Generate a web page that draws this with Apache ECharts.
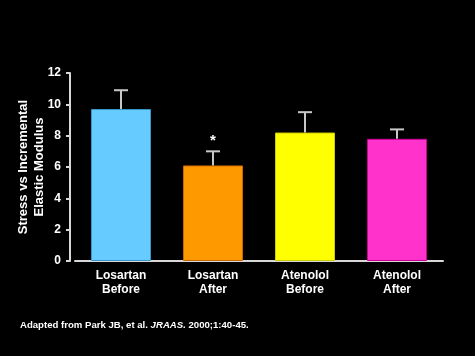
<!DOCTYPE html>
<html><head><meta charset="utf-8">
<script src="https://cdn.jsdelivr.net/npm/echarts@6/dist/echarts.min.js"></script>
<style>html,body{margin:0;padding:0;background:#000;}#c{width:475px;height:356px;}</style>
</head><body><div id="c"></div>
<script>
const categories = ['Losartan\nBefore', 'Losartan\nAfter', 'Atenolol\nBefore', 'Atenolol\nAfter'];
const means = [9.7, 6.1, 8.2, 7.8];
const errorTops = [10.9, 7.0, 9.5, 8.4];
const marks = ['', '*', '', ''];
const colors = ['#66CCFF', '#FF9900', '#FFFF00', '#FF33CC'];
const borders = ['#3399CC', '#CC6600', '#CCCC00', '#CC0099'];
const yTicks = [0, 2, 4, 6, 8, 10, 12];

const font = 'Liberation Sans, Arial, sans-serif';
const chart = echarts.init(document.getElementById('c'));
chart.setOption({
  backgroundColor: '#000',
  animation: false,
  grid: { left: 75, right: 32, top: 73, bottom: 95, outerBoundsMode: 'none', containLabel: false },
  xAxis: {
    type: 'category', data: categories,
    axisLine: { lineStyle: { color: '#d8d8d8', width: 2 } },
    axisTick: { show: false },
    axisLabel: { color: '#fff', fontWeight: 'bold', fontSize: 12, fontFamily: font, lineHeight: 14, margin: 8 }
  },
  yAxis: {
    type: 'value', min: yTicks[0], max: yTicks[yTicks.length - 1], interval: 2,
    offset: 5,
    name: 'Stress vs Incremental\nElastic Modulus', nameLocation: 'middle', nameRotate: 90, nameGap: 23,
    nameMoveOverlap: false,
    nameTextStyle: { color: '#fff', fontWeight: 'bold', fontSize: 13, fontFamily: font, lineHeight: 16 },
    axisLine: { show: true, lineStyle: { color: '#d8d8d8', width: 2 } },
    axisTick: { show: true, length: 4, lineStyle: { color: '#d8d8d8', width: 2 } },
    splitLine: { show: false },
    axisLabel: { color: '#fff', fontWeight: 'bold', fontSize: 12, fontFamily: font, margin: 9 }
  },
  series: [{
    type: 'bar', barWidth: 60,
    data: means.map((v, i) => ({ value: v, itemStyle: { color: colors[i], borderColor: borders[i], borderWidth: 1 } })),
    z: 2
  }, {
    type: 'custom',
    z: 3,
    data: means.map((v, i) => [i, v, errorTops[i]]),
    renderItem: function (params, api) {
      const i = api.value(0);
      const b = api.coord([i, api.value(1)]);
      const t = api.coord([i, api.value(2)]);
      const half = 7;
      const children = [
        { type: 'line', shape: { x1: b[0], y1: b[1], x2: t[0], y2: t[1] }, style: { stroke: '#c8c8c8', lineWidth: 2 } },
        { type: 'line', shape: { x1: t[0] - half, y1: t[1], x2: t[0] + half, y2: t[1] }, style: { stroke: '#c8c8c8', lineWidth: 2 } }
      ];
      if (marks[i]) {
        children.push({ type: 'text', style: { text: marks[i], x: t[0], y: t[1] - 10, fill: '#fff', font: 'bold 15px ' + font, align: 'center', verticalAlign: 'middle' } });
      }
      return { type: 'group', children: children };
    }
  }],
  graphic: [{
    type: 'text', left: 20, top: 320,
    style: {
      text: '{n|Adapted from Park JB, et al. }{i|JRAAS.}{n| 2000;1:40-45.}',
      rich: {
        n: { fill: '#fff', fontSize: 9.6, fontWeight: 'bold', fontFamily: font },
        i: { fill: '#fff', fontSize: 9.6, fontWeight: 'bold', fontStyle: 'italic', fontFamily: font }
      }
    }
  }]
});
</script></body></html>
